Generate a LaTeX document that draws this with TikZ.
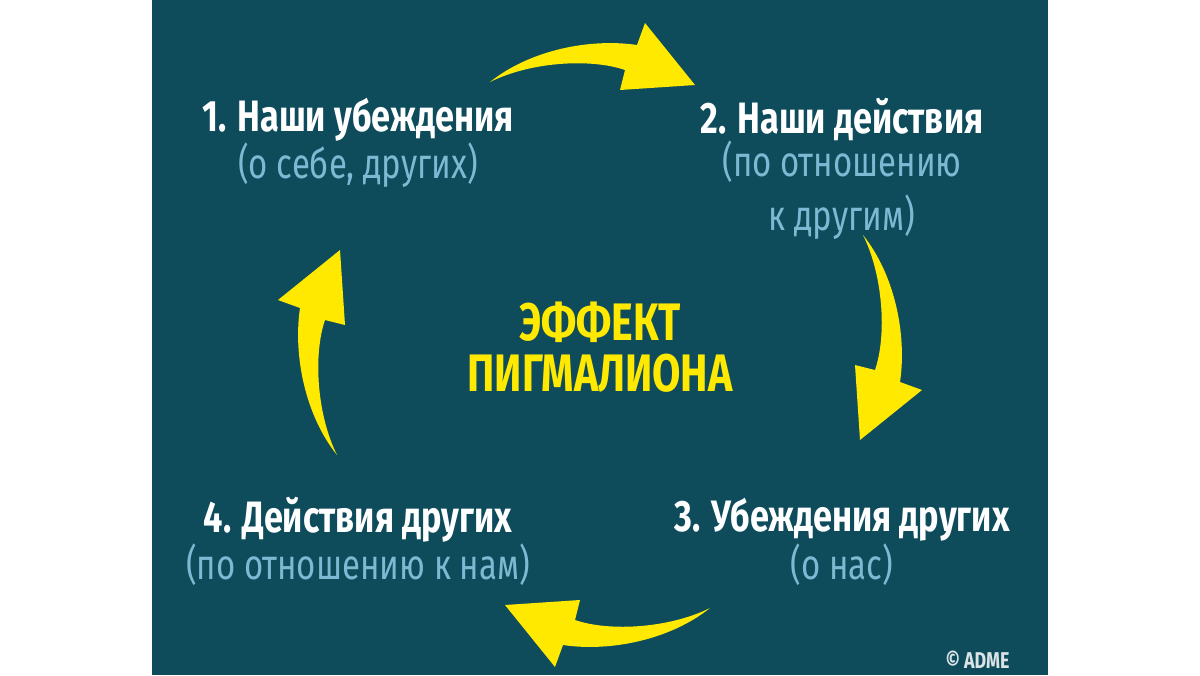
\documentclass[tikz,border=0pt]{standalone}
\usepackage{fontspec}
\setmainfont{Fira Sans}[FakeStretch=0.78]
\definecolor{bg_teal}{RGB}{14,76,92}
\definecolor{arrow_yellow}{RGB}{255,233,0}
\definecolor{sub_blue}{RGB}{125,185,210}
\newcommand{\cyclearrow}[1]{%
  \fill[arrow_yellow, rotate around={#1:(600,345)}]
    (490,82) .. controls (530,50) and (590,38) .. (637,45)
    -- (645,23) -- (695,85) -- (620,90) -- (625,70)
    .. controls (590,58) and (530,62) .. (490,82) -- cycle;}

\begin{document}
\begin{tikzpicture}[x=0.01cm,y=-0.01cm]
    \tikzstyle{step_title}=[text=white, font=\bfseries\fontsize{12.5}{13}\selectfont, inner sep=0]
    \tikzstyle{step_sub}=[text=sub_blue, font=\fontsize{12}{15.5}\selectfont, inner sep=0, align=center]
    \tikzstyle{center_title}=[text=arrow_yellow, font=\bfseries\fontsize{15}{14.5}\selectfont, align=center, inner sep=0]

    \useasboundingbox (0,0) rectangle (1200,675);
    \fill[bg_teal] (152,0) rectangle (1048,675);

    \cyclearrow{0}
    \cyclearrow{-90}
    \cyclearrow{-180}
    \cyclearrow{-270}

    \node[step_title] (t1) at (358,120) {1. Наши убеждения};
    \node[step_sub]   (s1) at (358,165) {(о себе, других)};
    \node[step_title] (t2) at (842,120) {2. Наши действия};
    \node[step_sub]   (s2) at (842,190) {(по отношению\\к другим)};
    \node[step_title] (t3) at (842,520) {3. Убеждения других};
    \node[step_sub]   (s3) at (842,565) {(о нас)};
    \node[step_title] (t4) at (358,520) {4. Действия других};
    \node[step_sub]   (s4) at (358,565) {(по отношению к нам)};

    \node[center_title] (effect) at (600,347) {ЭФФЕКТ\\ПИГМАЛИОНА};
    \node[text=white!85!bg_teal, font=\bfseries\fontsize{6.5}{6.5}\selectfont, anchor=east] (copy) at (1022,660) {© ADME};
\end{tikzpicture}
\end{document}
